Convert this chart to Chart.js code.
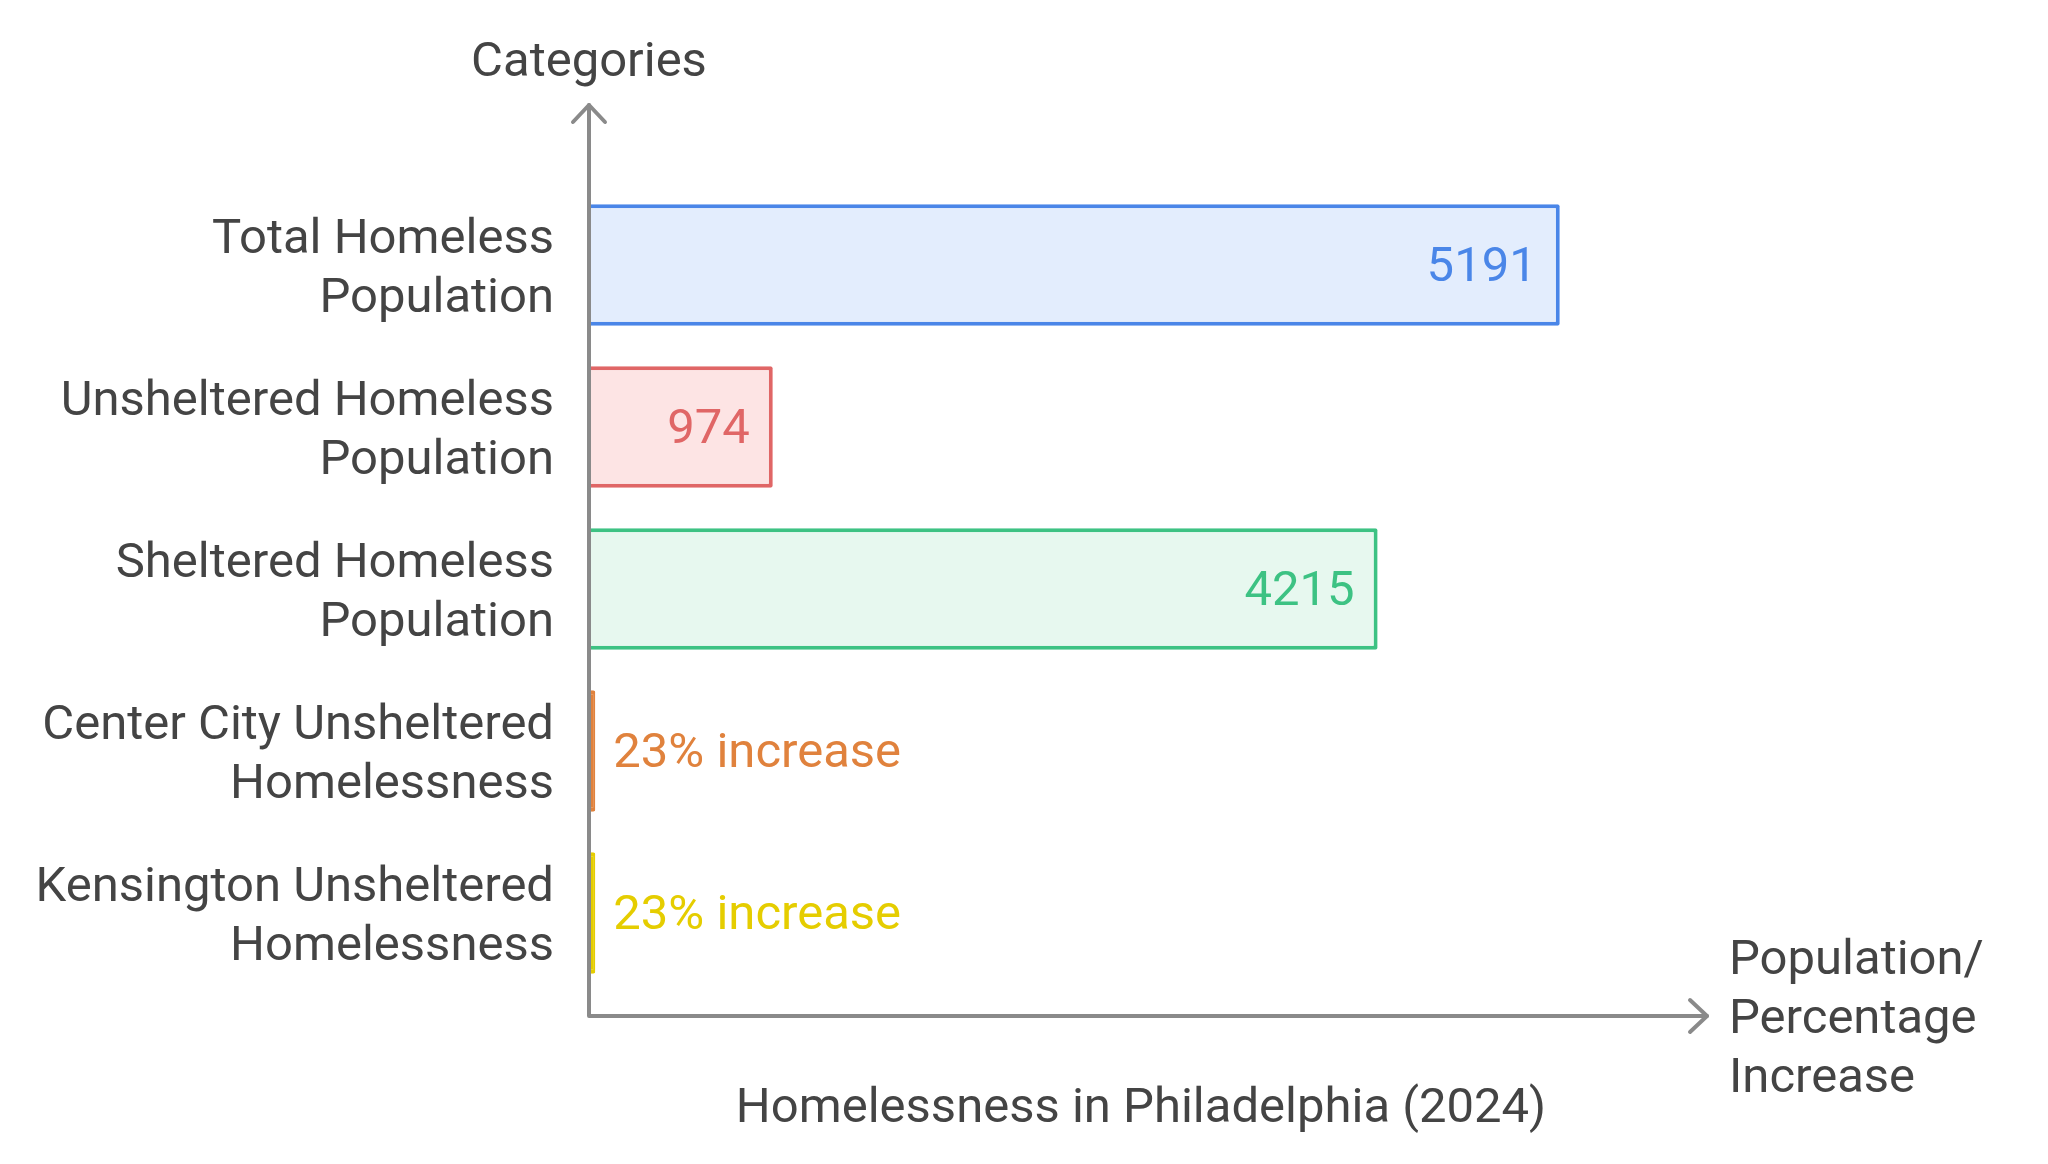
<!DOCTYPE html>
<html>
<head>
<meta charset="utf-8">
<style>
  html, body { margin: 0; padding: 0; background: #ffffff; }
  #wrap { width: 2048px; height: 1164px; position: relative; }
</style>
<script src="https://cdn.jsdelivr.net/npm/chart.js@4.4.1/dist/chart.umd.min.js"></script>
</head>
<body>
<div id="wrap"><canvas id="main-graph" width="2048" height="1164"></canvas></div>
<script>
const categories = [
  ["Total Homeless", "Population"],
  ["Unsheltered Homeless", "Population"],
  ["Sheltered Homeless", "Population"],
  ["Center City Unsheltered", "Homelessness"],
  ["Kensington Unsheltered", "Homelessness"],
];
const values = [5191, 974, 4215, 23, 23];
const valueLabels = ["5191", "974", "4215", "23% increase", "23% increase"];
const borderColors = ["#4a86e8", "#e06666", "#3dc283", "#e0823d", "#e5cd00"];
const fillColors = ["#e3edfd", "#fde4e4", "#e7f8ef", "#e0823d", "#e5cd00"];

const yTitle = "Categories";
const xTitle = ["Population/", "Percentage", "Increase"];
const chartTitle = "Homelessness in Philadelphia (2024)";

const FONT = "Roboto";
const TEXT = "#444444";
const AXIS = "#8a8a8a";

const decor = {
  id: "decor",
  afterDatasetsDraw(chart) {
    const { ctx, chartArea } = chart;
    const ox = chartArea.left - 2;
    const oy = chartArea.bottom + 22;
    const top = chartArea.top - 79;
    const right = chartArea.right;

    ctx.save();
    ctx.strokeStyle = AXIS;
    ctx.lineWidth = 4;
    ctx.lineCap = "round";
    ctx.lineJoin = "round";
    ctx.beginPath();
    ctx.moveTo(ox, top);
    ctx.lineTo(ox, oy);
    ctx.lineTo(right, oy);
    ctx.stroke();
    // arrow heads
    ctx.beginPath();
    ctx.moveTo(ox - 16, top + 17);
    ctx.lineTo(ox, top);
    ctx.lineTo(ox + 16, top + 17);
    ctx.moveTo(right - 17, oy - 16);
    ctx.lineTo(right, oy);
    ctx.lineTo(right - 17, oy + 16);
    ctx.stroke();

    // value labels
    ctx.font = "49px " + FONT;
    ctx.textBaseline = "middle";
    const meta = chart.getDatasetMeta(0);
    meta.data.forEach((bar, i) => {
      ctx.fillStyle = borderColors[i];
      if (bar.x - bar.base > 150) {
        ctx.textAlign = "right";
        ctx.fillText(valueLabels[i], bar.x - 23, bar.y + 4);
      } else {
        ctx.textAlign = "left";
        ctx.fillText(valueLabels[i], bar.x + 18, bar.y + 4);
      }
    });

    // titles
    ctx.fillStyle = TEXT;
    ctx.textAlign = "center";
    ctx.fillText(yTitle, ox, 64);
    ctx.fillText(chartTitle, 1141, 1110);
    ctx.textAlign = "left";
    xTitle.forEach((t, i) => ctx.fillText(t, right + 22, oy - 54 + i * 59));
    ctx.restore();
  },
};

new Chart(document.getElementById("main-graph"), {
  type: "bar",
  data: {
    labels: categories,
    datasets: [
      {
        data: values,
        backgroundColor: fillColors,
        borderColor: borderColors,
        borderWidth: 4,
        borderRadius: 2,
        barPercentage: 0.75,
        categoryPercentage: 1,
      },
    ],
  },
  options: {
    indexAxis: "y",
    responsive: false,
    animation: false,
    layout: {
      padding: { top: 184, bottom: 170, right: 341, left: 0 },
    },
    scales: {
      x: {
        display: false,
        min: 0,
        max: 5980,
      },
      y: {
        afterFit(scale) {
          scale.width = 591;
        },
        border: { display: false },
        grid: { display: false, drawTicks: false },
        ticks: {
          padding: 37,
          labelOffset: 5,
          color: TEXT,
          font: { family: FONT, size: 49, lineHeight: 1.2 },
        },
      },
    },
    plugins: {
      legend: { display: false },
      tooltip: { enabled: false },
    },
  },
  plugins: [decor],
});
</script>
</body>
</html>
